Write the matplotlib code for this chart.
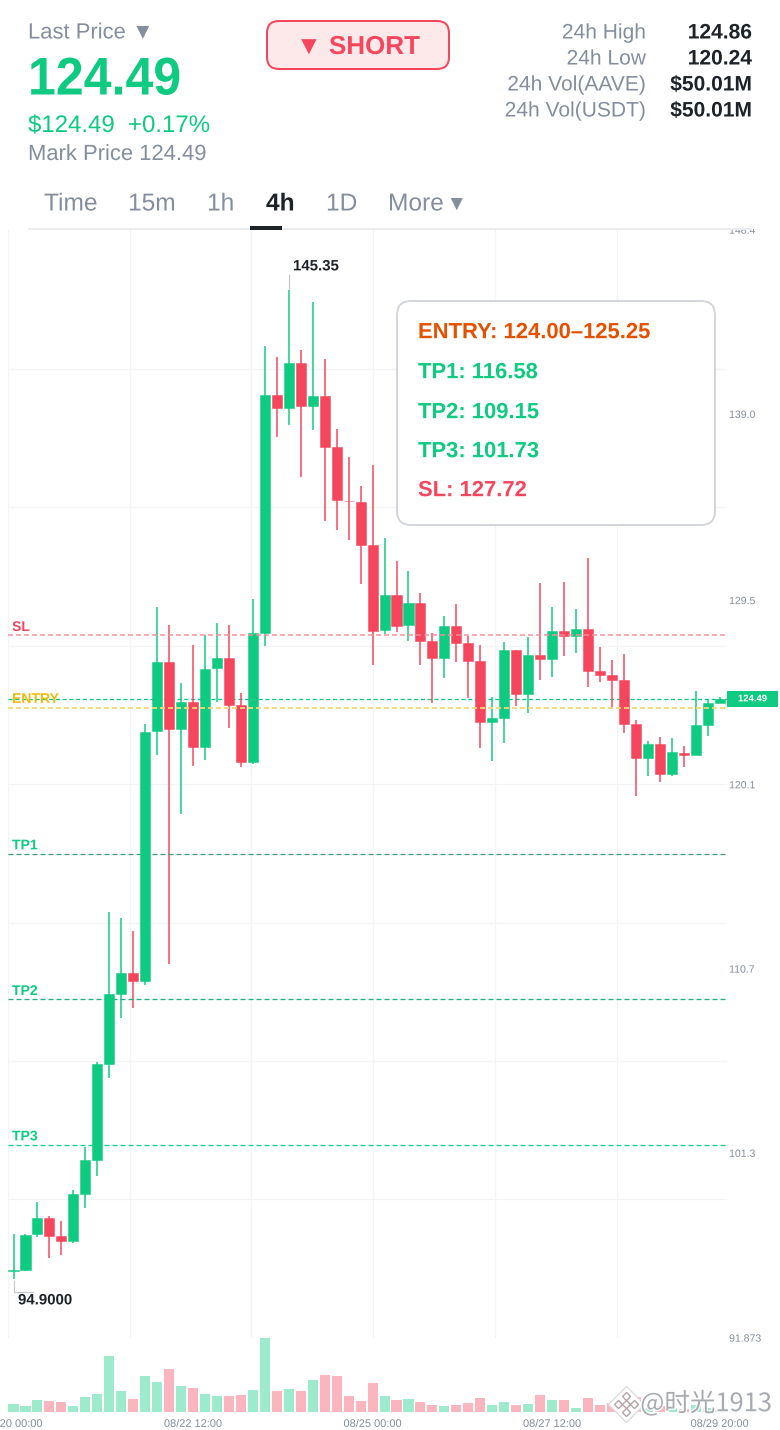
import matplotlib
matplotlib.use('Agg')
import matplotlib.pyplot as plt
import matplotlib.patheffects as pe
import numpy as np
from matplotlib.patches import FancyBboxPatch, Rectangle
from matplotlib.text import Text
from matplotlib.ticker import FixedLocator
from matplotlib.transforms import Affine2D

plt.rcParams['font.family'] = ['Liberation Sans', 'DejaVu Sans']
plt.rcParams['text.hinting'] = 'no_hinting'

GREEN = '#0ecb81'
RED = '#f6465d'
GREY = '#848e9c'
DARK = '#1e2329'
GRID = '#f3f4f6'
PX = 0.72  # points per pixel at dpi 100

opens = [95.30, 95.34, 97.18, 97.99, 97.07, 96.82, 99.22, 100.95, 105.85, 109.42,
         110.49, 110.08, 122.84, 126.36, 122.94, 124.32, 122.02, 126.05, 126.56, 124.17,
         121.26, 127.84, 139.98, 139.32, 141.62, 139.42, 139.93, 137.33, 134.57, 134.52,
         132.33, 127.99, 129.78, 128.25, 129.37, 127.43, 126.56, 128.20, 127.33, 126.41,
         123.30, 123.50, 126.97, 124.73, 126.72, 126.51, 127.94, 127.69, 128.04, 125.90,
         125.70, 125.44, 123.20, 121.46, 122.18, 120.65, 121.72, 121.62, 123.15, 124.27]
closes = [95.32, 97.13, 97.99, 97.07, 96.82, 99.22, 100.95, 105.85, 109.42, 110.49,
          110.08, 122.78, 126.36, 122.94, 124.32, 122.02, 126.00, 126.56, 124.17, 121.26,
          127.84, 139.98, 139.32, 141.62, 139.42, 139.93, 137.33, 134.62, 134.55, 132.33,
          127.94, 129.78, 128.20, 129.37, 127.43, 126.56, 128.20, 127.33, 126.41, 123.30,
          123.50, 126.97, 124.73, 126.72, 126.51, 127.94, 127.69, 128.04, 125.90, 125.70,
          125.44, 123.20, 121.46, 122.18, 120.65, 121.77, 121.62, 123.15, 124.27, 124.49]
highs = [97.18, 97.18, 98.81, 98.10, 97.84, 99.42, 101.61, 105.95, 113.60, 113.30,
         112.63, 123.20, 129.17, 128.25, 125.29, 127.23, 127.74, 128.35, 128.25, 124.78,
         129.57, 142.48, 141.92, 145.35, 142.28, 144.73, 141.82, 138.25, 136.82, 135.34,
         136.41, 132.69, 131.51, 131.00, 129.88, 127.84, 128.71, 129.32, 127.69, 127.23,
         124.57, 127.38, 126.97, 127.63, 130.39, 129.17, 130.44, 129.06, 131.67, 127.13,
         126.46, 126.77, 123.40, 122.33, 122.53, 122.48, 122.08, 124.88, 124.42, 124.58]
lows = [94.90, 95.29, 97.02, 95.95, 96.10, 96.72, 98.50, 100.13, 105.13, 108.20,
        108.71, 109.88, 121.61, 110.95, 118.60, 121.05, 121.36, 124.32, 122.99, 121.00,
        121.16, 127.18, 137.84, 138.45, 135.80, 138.20, 133.55, 133.09, 132.58, 130.34,
        126.21, 127.79, 127.89, 127.43, 126.21, 124.27, 125.54, 126.36, 124.52, 121.97,
        121.31, 122.23, 124.10, 123.76, 125.44, 125.59, 126.66, 126.82, 125.09, 125.34,
        123.96, 122.74, 119.52, 120.54, 120.24, 120.54, 121.00, 121.62, 122.58, 124.27]
# relative volume
volumes = [8.0, 5.7, 12.3, 11.0, 9.7, 6.3, 15.0, 17.7, 55.3, 21.3,
           13.0, 36.3, 30.3, 43.0, 26.0, 23.7, 18.0, 16.3, 15.7, 16.7,
           21.7, 73.7, 21.0, 22.7, 20.7, 31.7, 37.3, 35.7, 15.7, 10.7,
           28.7, 16.3, 11.7, 12.7, 10.3, 6.7, 6.0, 7.0, 9.0, 14.3,
           7.3, 9.7, 7.0, 8.3, 16.7, 12.0, 12.0, 4.3, 14.3, 6.7,
           8.7, 14.0, 15.3, 4.0, 6.3, 4.0, 3.0, 7.0, 4.0, 1.7]

price_ticks = [148.4, 139.0, 129.5, 120.1, 110.7, 101.3, 91.873]
time_idx = [0, 15, 30, 45, 59]
time_labels = ['08/20 00:00', '08/22 12:00', '08/25 00:00', '08/27 12:00', '08/29 20:00']

level_names = ['SL', 'ENTRY', 'TP1', 'TP2', 'TP3']
level_prices = [127.72, 124.00, 116.58, 109.15, 101.73]
level_text_col = [RED, '#f0b90b', GREEN, GREEN, GREEN]
level_line_col = ['#f98c9b', '#f6d873', '#3f9c7c', '#22b184', '#12d08e']
level_widths = [1.6, 2.0, 1.3, 1.3, 1.3]
last_price = 124.49

info_lines = ['ENTRY: 124.00\u2013125.25', 'TP1: 116.58', 'TP2: 109.15', 'TP3: 101.73', 'SL: 127.72']
info_cols = ['#e65100', GREEN, GREEN, GREEN, RED]

stat_names = ['24h High', '24h Low', '24h Vol(AAVE)', '24h Vol(USDT)']
stat_vals = ['124.86', '120.24', '$50.01M', '$50.01M']
tabs = ['Time', '15m', '1h', '4h', '1D', 'More \u25be']

W, H = 780, 1430
fig = plt.figure(figsize=(W / 100, H / 100), dpi=100, facecolor='white')


class Squeeze(pe.AbstractPathEffect):
    # the big price has tight letter spacing, matplotlib can't do that directly
    def __init__(self, x0, sx):
        super().__init__()
        self.x0 = x0
        self.sx = sx

    def draw_path(self, renderer, gc, tpath, affine, rgbFace=None):
        squeeze = Affine2D().translate(-self.x0, 0).scale(self.sx, 1).translate(self.x0, 0)
        renderer.draw_path(gc, tpath, affine + squeeze, rgbFace)


def px_axes(l, t, r, b, **kw):
    return fig.add_axes([l / W, 1 - b / H, (r - l) / W, (b - t) / H], **kw)


x = np.arange(len(opens))
o = np.array(opens)
c = np.array(closes)
up = c >= o
cols = [GREEN if u else RED for u in up]
xlim = (-0.46, 59.61)

# price pane
ax = px_axes(8, 230, 727, 1338)
ax.set_xlim(*xlim)
ax.set_ylim(price_ticks[-1], price_ticks[0])
for s in ax.spines.values():
    s.set_visible(False)
ax.xaxis.set_minor_locator(FixedLocator([xlim[0] + k * 10.17 for k in range(6)]))
ax.yaxis.set_minor_locator(FixedLocator(np.linspace(price_ticks[-1], price_ticks[0], 9)))
ax.grid(True, which='minor', color=GRID, lw=1.2 * PX)
ax.set_axisbelow(True)
ax.set_xticks([])
ax.tick_params(which='minor', length=0)
ax.yaxis.tick_right()
ax.set_yticks(price_ticks, [str(p) for p in price_ticks])
ax.tick_params(axis='y', which='major', length=0, pad=1.5, labelsize=10.5 * PX, labelcolor=GREY)

ax.axhline(last_price, color=GREEN, lw=1.3 * PX, dashes=(3.2, 2), zorder=1.5)
ax.vlines(x, lows, highs, color=cols, lw=1.5 * PX, zorder=2)
ax.bar(x, np.abs(c - o), bottom=np.minimum(o, c), width=0.84, color=cols, edgecolor=cols,
       linewidth=0.5 * PX, zorder=3)
for name, p, tc, lc, lw in zip(level_names, level_prices, level_text_col, level_line_col, level_widths):
    ax.axhline(p, color=lc, lw=lw * PX, dashes=(5 / lw, 3 / lw), zorder=4 if lw > 1.5 else 2.5,
               alpha=0.9 if lw > 1.5 else 1)
    ax.annotate(name, (0, p), xycoords=('axes fraction', 'data'), xytext=(4 * PX, (8 if name != 'ENTRY' else 9) * PX),
                textcoords='offset points', va='center', ha='left', fontsize=14 * PX, fontweight='bold',
                color=tc, zorder=5)

# volume pane
vax = px_axes(8, 1338, 727, 1412)
vax.set_xlim(*xlim)
vax.set_ylim(0, max(volumes))
vax.bar(x, volumes, width=0.84, color=cols, alpha=0.4, linewidth=0)
for s in vax.spines.values():
    s.set_visible(False)
vax.set_yticks([])
vax.set_xticks(time_idx, time_labels)
vax.tick_params(axis='x', length=0, pad=5.0, labelsize=11 * PX, labelcolor=GREY)

# header, callouts and decorations in pixel coordinates
ov = fig.add_axes([0, 0, 1, 1], zorder=10)
ov.set_xlim(0, W)
ov.set_ylim(H, 0)
ov.axis('off')
ov.patch.set_alpha(0)
ov.add_patch(Rectangle((0, 0), W, 228.5, color='white', lw=0))

ov.text(28, 38.5, 'Last Price \u25bc', color=GREY, fontsize=22 * PX, va='baseline')
ov.text(28, 94.5, '124.49', color=GREEN, fontsize=53 * PX, va='baseline', fontweight='bold',
        path_effects=[Squeeze(28, 0.945)])
ov.text(28, 132, '$124.49', color=GREEN, fontsize=24 * PX, va='baseline')
ov.text(128, 132, '+0.17%', color=GREEN, fontsize=24 * PX, va='baseline')
ov.text(28, 160, 'Mark Price 124.49', color=GREY, fontsize=22 * PX, va='baseline')

ov.add_patch(FancyBboxPatch((267, 21), 182, 48, boxstyle='round,pad=0,rounding_size=12',
                            fc='#fde8ea', ec=RED, lw=2 * PX))
ov.text(358, 54, '\u25bc SHORT', color=RED, fontsize=26 * PX, fontweight='bold', ha='center', va='baseline')

for i, (n, v) in enumerate(zip(stat_names, stat_vals)):
    y = 38.5 + 26 * i
    ov.text(646, y, n, color=GREY, fontsize=21 * PX, ha='right', va='baseline')
    ov.text(752, y, v, color=DARK, fontsize=21 * PX, ha='right', va='baseline', fontweight='bold')

tab_x = [44, 128, 207, 266, 326, 388]
for tx, name in zip(tab_x, tabs):
    active = name == '4h'
    ov.text(tx, 210.5, name, color=DARK if active else GREY, fontsize=24.5 * PX, va='baseline',
            fontweight='bold' if active else 'normal')
ov.add_patch(Rectangle((28, 228), 724, 2, color='#eaecef', lw=0))
ov.add_patch(Rectangle((250, 226), 32, 4, color=DARK, lw=0))

# last price tag
ov.add_patch(Rectangle((727, 691), 51, 16, color=GREEN, lw=0))
ov.text(752.5, 699, '124.49', color='white', fontsize=9.5 * PX, fontweight='bold', ha='center', va='center')

# high and low markers
ov.plot([289, 289], [275, 289], color='#c4c7cc', lw=1.2 * PX)
ov.text(293, 266.5, '145.35', color=DARK, fontsize=15 * PX, fontweight='bold', va='center')
ov.plot([14, 14, 33], [1281, 1292, 1292], color='#c4c7cc', lw=1.2 * PX)
ov.text(18, 1300.5, '94.9000', color=DARK, fontsize=15 * PX, fontweight='bold', va='center')

# levels box
ov.add_patch(FancyBboxPatch((397, 301), 318, 224, boxstyle='round,pad=0,rounding_size=14',
                            fc='white', ec='#d3d6db', lw=2 * PX))
for y, s, col in zip([331, 371, 411, 450, 489], info_lines, info_cols):
    ov.text(418, y + 1.5, s, color=col, fontsize=22 * PX, fontweight='bold', va='center')

# watermark
halo = [pe.withStroke(linewidth=2, foreground='white')]
ov.text(772, 1404, '@\u65f6\u51491913', family=['Noto Sans CJK SC', 'DejaVu Sans'], color='#a3a7ae',
        fontsize=25.5 * PX, ha='right', va='center', path_effects=halo, alpha=0.95)
ov.plot([626], [1404], marker='D', ms=18, mfc='white', mec='#dcdde0', mew=1)
for dx, dy in [(0, -8), (0, 8), (-8, 0), (8, 0), (0, 0)]:
    ov.plot([626 + dx], [1404 + dy], marker='D', ms=3.6, mfc='white', mec='#b9a3a8', mew=1)

# draw text as paths so the baselines stay on exact pixel positions
for t in fig.findobj(Text):
    if not t.get_path_effects():
        t.set_path_effects([pe.Normal()])

fig.savefig('out.png', dpi=100)
